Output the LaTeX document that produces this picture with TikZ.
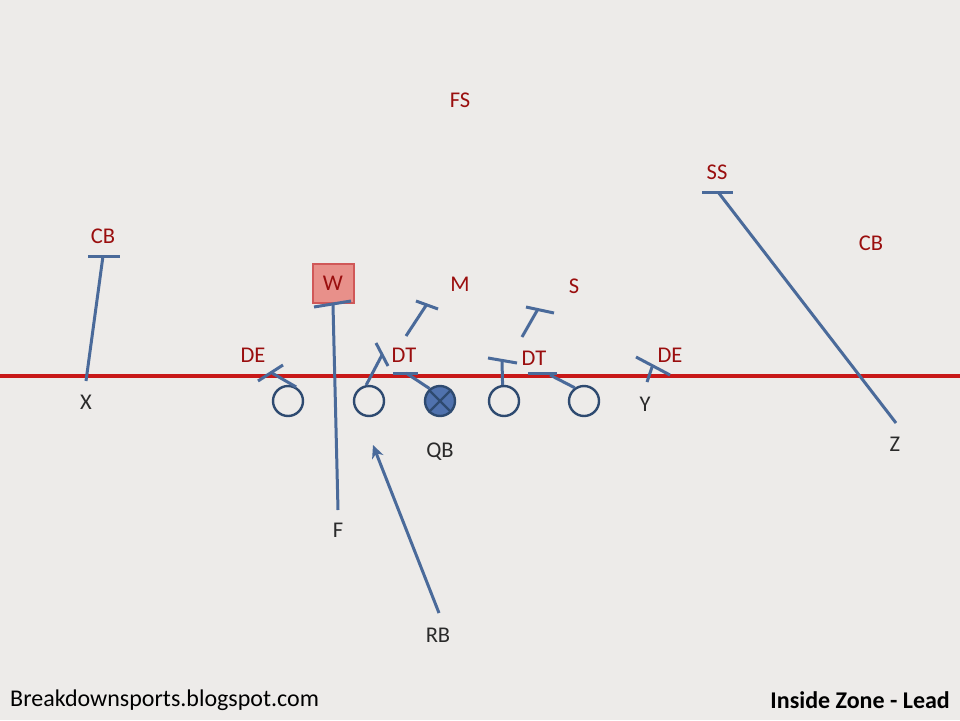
\documentclass[tikz,border=0pt]{standalone}
\usepackage{fontspec}
\setmainfont{Carlito}
\usetikzlibrary{arrows.meta}
\definecolor{bg}{HTML}{EDEBE9}
\definecolor{route}{HTML}{4A6A9A}
\definecolor{navy}{HTML}{2E4A70}
\definecolor{cfill}{HTML}{5072AE}
\definecolor{dred}{HTML}{9A0E0E}
\definecolor{lred}{HTML}{C81818}
\definecolor{wfill}{HTML}{E8908A}
\definecolor{wdraw}{HTML}{D05858}
\definecolor{off}{HTML}{2A2A2A}
\begin{document}
\begin{tikzpicture}[x=1pt,y=-1pt,
  deflab/.style={text=dred,font=\fontsize{22.5}{22.5}\selectfont,inner sep=0pt},
  offlab/.style={text=off,font=\fontsize{22.5}{22.5}\selectfont,inner sep=0pt},
  lineman/.style={circle,draw=navy,line width=2.4pt,minimum size=30pt,inner sep=0pt},
  rt/.style={draw=route,line width=3pt},
  bar/.style={draw=route,line width=3pt}]
\fill[bg] (0,0) rectangle (960,720);
\useasboundingbox (0,0) rectangle (960,720);
% line of scrimmage
\coordinate (losL) at (0,376);
\coordinate (losR) at (960,376);
\draw[lred,line width=3.2pt] (losL) -- (losR);
% offensive line
\node[lineman] (lt) at (288,401) {};
\node[lineman] (lg) at (369,401) {};
\node[lineman,fill=cfill] (c) at (440,401) {};
\node[lineman] (rg) at (504,401) {};
\node[lineman] (rtk) at (584,401) {};
\draw[navy,line width=2.4pt] (c.north west) -- (c.south east) (c.north east) -- (c.south west);
% defensive labels
\node[deflab] (fs) at (460,100) {FS};
\node[deflab] (ss) at (717,172) {SS};
\node[deflab] (cbl) at (103,236) {CB};
\node[deflab] (cbr) at (871,243) {CB};
\node[deflab] (m) at (460,284) {M};
\node[deflab] (s) at (574,286) {S};
\node[deflab] (del) at (253,355) {DE};
\node[deflab] (dtl) at (404,355) {DT};
\node[deflab] (dtr) at (534,358) {DT};
\node[deflab] (der) at (670,355) {DE};
\node[draw=wdraw,fill=wfill,line width=2pt,minimum width=41pt,minimum height=39pt,inner sep=0pt,text=dred,font=\fontsize{22.5}{22.5}\selectfont] (w) at (333,283) {W};
% offensive labels
\node[offlab] (x) at (86,402) {X};
\node[offlab] (y) at (645,404) {Y};
\node[offlab] (z) at (895,444) {Z};
\node[offlab] (qb) at (440,452) {QB};
\node[offlab] (f) at (338,530) {F};
\node[offlab] (rb) at (438,635) {RB};
% block coordinates
\coordinate (xs) at (86,381);   \coordinate (xe) at (103,256);
\coordinate (xb1) at (88,256);  \coordinate (xb2) at (120,256);
\coordinate (zs) at (896,423);  \coordinate (ze) at (718,192);
\coordinate (zb1) at (702,192); \coordinate (zb2) at (733,192);
\coordinate (fs0) at (338,510); \coordinate (fe) at (333,305);
\coordinate (fb1) at (314,307); \coordinate (fb2) at (351,301);
\coordinate (ys) at (647,382); \coordinate (ye) at (652,367);
\coordinate (yb1) at (636,357); \coordinate (yb2) at (670,375);
\coordinate (lte) at (272,373);
\coordinate (ltb1) at (258,381); \coordinate (ltb2) at (283,365);
\coordinate (lge) at (382,355);
\coordinate (lgb1) at (376,343); \coordinate (lgb2) at (388,366);
\coordinate (ce) at (406,373);
\coordinate (cb1) at (393,373); \coordinate (cb2) at (418,373);
\coordinate (rge) at (502,361);
\coordinate (rgb1) at (488,358); \coordinate (rgb2) at (517,363);
\coordinate (rte) at (550,375);
\coordinate (rtb1) at (528,373); \coordinate (rtb2) at (557,373);
\coordinate (ms) at (406,336); \coordinate (me) at (427,304);
\coordinate (mb1) at (416,301); \coordinate (mb2) at (438,309);
\coordinate (ss0) at (522,337); \coordinate (se) at (538,309);
\coordinate (sb1) at (526,307); \coordinate (sb2) at (554,313);
\coordinate (rbs) at (439,613); \coordinate (rbe) at (373,445);
% routes and blocks
\draw[rt] (xs) -- (xe); \draw[bar] (xb1) -- (xb2);
\draw[rt] (zs) -- (ze); \draw[bar] (zb1) -- (zb2);
\draw[rt] (fs0) -- (fe); \draw[bar] (fb1) -- (fb2);
\draw[rt] (ys) -- (ye); \draw[bar] (yb1) -- (yb2);
\draw[rt] (lt.60) -- (lte); \draw[bar] (ltb1) -- (ltb2);
\draw[rt] (lg.100) -- (lge); \draw[bar] (lgb1) -- (lgb2);
\draw[rt] (c.130) -- (ce); \draw[bar] (cb1) -- (cb2);
\draw[rt] (rg.95) -- (rge); \draw[bar] (rgb1) -- (rgb2);
\draw[rt] (rtk.125) -- (rte); \draw[bar] (rtb1) -- (rtb2);
\draw[rt] (ms) -- (me); \draw[bar] (mb1) -- (mb2);
\draw[rt] (ss0) -- (se); \draw[bar] (sb1) -- (sb2);
\draw[rt,-{Stealth[length=13pt,width=12pt,inset=4pt]}] (rbs) -- (rbe);
% footer
\node[anchor=west,text=black,font=\fontsize{24}{24}\selectfont,inner sep=0pt] (site) at (10,700) {Breakdownsports.blogspot.com};
\node[anchor=east,text=black,font=\fontsize{24}{24}\selectfont\bfseries,inner sep=0pt] (title) at (950,700) {Inside Zone - Lead};
\end{tikzpicture}
\end{document}
